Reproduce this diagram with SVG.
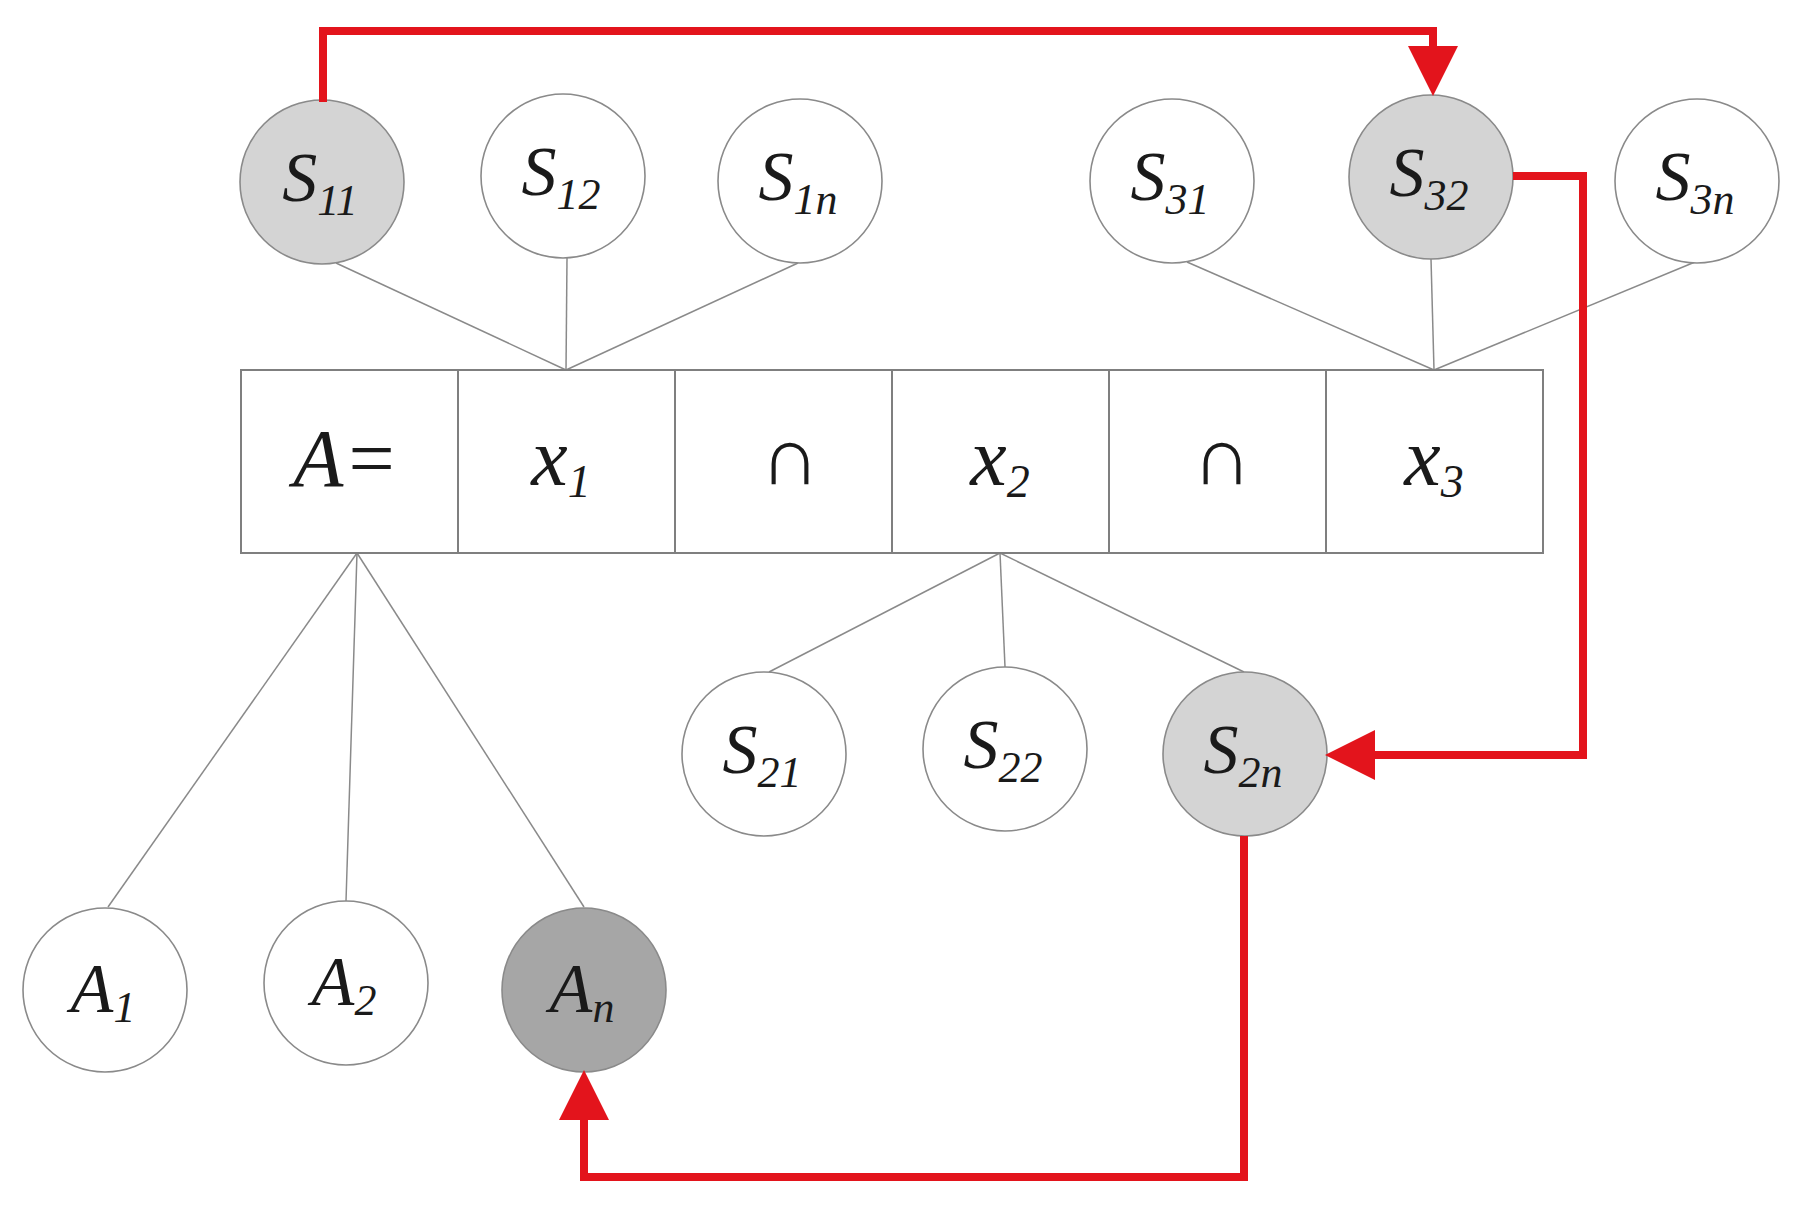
<svg xmlns="http://www.w3.org/2000/svg" width="1798" height="1209" viewBox="0 0 1798 1209">
<style>
.n{fill:#fff;stroke:#8a8a8a;stroke-width:1.6}
.g{fill:#d4d4d4}
.d{fill:#a6a6a6}
.t{font-family:"Liberation Serif","Times New Roman",serif;font-style:italic;font-size:70px;fill:#1a1a1a;text-anchor:middle}
.s{font-size:44px}
.tb{font-family:"Liberation Serif","Times New Roman",serif;font-style:italic;font-size:82px;fill:#1a1a1a;text-anchor:middle}
.ts{font-size:46px}
.cell{fill:#fff;stroke:#7f7f7f;stroke-width:2}
.ln{stroke:#8a8a8a;stroke-width:1.5;fill:none}
.red{stroke:#e3141c;stroke-width:8;fill:none;stroke-linejoin:miter}
</style>
<defs>
<marker id="ah" markerUnits="userSpaceOnUse" markerWidth="50" markerHeight="50" viewBox="0 0 48 48" refX="0" refY="24" orient="auto">
<path d="M0,0 L48,24 L0,48 Z" fill="#e3141c"/>
</marker>
</defs>
<rect width="1798" height="1209" fill="#fff"/>

<g id="tree-lines">
<line class="ln" x1="336" y1="263" x2="566" y2="370"/>
<line class="ln" x1="567" y1="258" x2="566" y2="370"/>
<line class="ln" x1="798" y1="263" x2="566" y2="370"/>
<line class="ln" x1="1187" y1="262" x2="1434" y2="370"/>
<line class="ln" x1="1431" y1="259" x2="1434" y2="370"/>
<line class="ln" x1="1695" y1="262" x2="1434" y2="370"/>
<line class="ln" x1="1000" y1="553" x2="769" y2="672"/>
<line class="ln" x1="1000" y1="553" x2="1005" y2="667"/>
<line class="ln" x1="1000" y1="553" x2="1244" y2="672"/>
<line class="ln" x1="357" y1="553" x2="108" y2="907"/>
<line class="ln" x1="357" y1="553" x2="346" y2="901"/>
<line class="ln" x1="357" y1="553" x2="584" y2="907"/>
</g>

<g id="table">
<rect class="cell" x="241" y="370" width="217" height="183"/>
<rect class="cell" x="458" y="370" width="217" height="183"/>
<rect class="cell" x="675" y="370" width="217" height="183"/>
<rect class="cell" x="892" y="370" width="217" height="183"/>
<rect class="cell" x="1109" y="370" width="217" height="183"/>
<rect class="cell" x="1326" y="370" width="217" height="183"/>
<text class="tb" x="346" y="486">A=</text>
<text class="tb" x="561" y="485">x<tspan class="ts" dy="12">1</tspan></text>
<text class="tb" x="790" y="484">∩</text>
<text class="tb" x="1000" y="485">x<tspan class="ts" dy="12">2</tspan></text>
<text class="tb" x="1222" y="484">∩</text>
<text class="tb" x="1434" y="485">x<tspan class="ts" dy="12">3</tspan></text>
</g>

<g id="S11"><circle class="n g" cx="322" cy="182" r="82"/><text class="t" x="320" y="201">S<tspan class="s" dy="14">11</tspan></text></g>
<g id="S12"><circle class="n" cx="563" cy="176" r="82"/><text class="t" x="561" y="195">S<tspan class="s" dy="14">12</tspan></text></g>
<g id="S1n"><circle class="n" cx="800" cy="181" r="82"/><text class="t" x="798" y="200">S<tspan class="s" dy="14">1n</tspan></text></g>
<g id="S31"><circle class="n" cx="1172" cy="181" r="82"/><text class="t" x="1170" y="200">S<tspan class="s" dy="14">31</tspan></text></g>
<g id="S32"><circle class="n g" cx="1431" cy="177" r="82"/><text class="t" x="1429" y="196">S<tspan class="s" dy="14">32</tspan></text></g>
<g id="S3n"><circle class="n" cx="1697" cy="181" r="82"/><text class="t" x="1695" y="200">S<tspan class="s" dy="14">3n</tspan></text></g>
<g id="S21"><circle class="n" cx="764" cy="754" r="82"/><text class="t" x="762" y="773">S<tspan class="s" dy="14">21</tspan></text></g>
<g id="S22"><circle class="n" cx="1005" cy="749" r="82"/><text class="t" x="1003" y="768">S<tspan class="s" dy="14">22</tspan></text></g>
<g id="S2n"><circle class="n g" cx="1245" cy="754" r="82"/><text class="t" x="1243" y="773">S<tspan class="s" dy="14">2n</tspan></text></g>
<g id="A1"><circle class="n" cx="105" cy="990" r="82"/><text class="t" x="103" y="1012">A<tspan class="s" dy="10">1</tspan></text></g>
<g id="A2"><circle class="n" cx="346" cy="983" r="82"/><text class="t" x="344" y="1005">A<tspan class="s" dy="10">2</tspan></text></g>
<g id="An"><circle class="n d" cx="584" cy="990" r="82"/><text class="t" x="582" y="1012">A<tspan class="s" dy="10">n</tspan></text></g>

<g id="connectors">
<path class="red" d="M323,102 V31 H1433 V46" marker-end="url(#ah)"/>
<path class="red" d="M1513,176 H1583 V755 H1375" marker-end="url(#ah)"/>
<path class="red" d="M1244,836 V1177 H584 V1120" marker-end="url(#ah)"/>
</g>
</svg>
